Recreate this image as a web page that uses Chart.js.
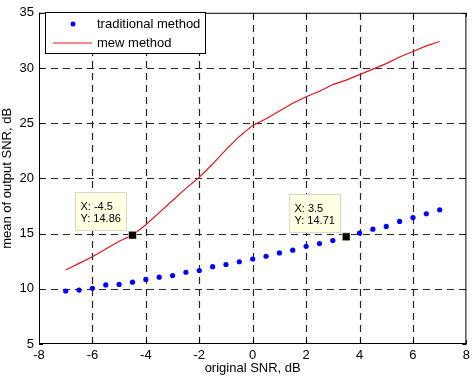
<!DOCTYPE html>
<html>
<head>
<meta charset="utf-8">
<script src="https://cdn.jsdelivr.net/npm/chart.js@4.4.0/dist/chart.umd.min.js"></script>
<style>
  html, body { margin: 0; padding: 0; background: #fff; }
  #wrap { width: 474px; height: 379px; position: relative; }
</style>
</head>
<body>
<div id="wrap"><canvas id="snrChart"></canvas></div>
<script>
// Input SNR values (dB)
const snrIn = [-7, -6.5, -6, -5.5, -5, -4.5, -4, -3.5, -3, -2.5, -2, -1.5, -1, -0.5, 0,
               0.5, 1, 1.5, 2, 2.5, 3, 3.5, 4, 4.5, 5, 5.5, 6, 6.5, 7];

// Mean output SNR, traditional method (dots)
const traditional = [9.8, 9.88, 10.05, 10.35, 10.4, 10.6, 10.85, 11.05, 11.2, 11.5, 11.65, 12.0, 12.2, 12.45, 12.7,
                     12.95, 13.25, 13.5, 13.85, 14.1, 14.37, 14.71, 15.05, 15.4, 15.65, 16.1, 16.45, 16.8, 17.15];

// Mean output SNR, new method (line)
const newMethod = [11.7, 12.3, 12.9, 13.6, 14.3, 14.86, 15.8, 16.9, 18.0, 19.1, 20.1, 21.3, 22.6, 23.8, 24.8,
                   25.4, 26.1, 26.8, 27.4, 27.9, 28.5, 28.9, 29.4, 29.9, 30.4, 31.0, 31.5, 32.0, 32.4];

// Data tips shown on the plot
const tipX = [-4.5, 3.5];
const tipY = [14.86, 14.71];

const xTicks = [-8, -6, -4, -2, 0, 2, 4, 6, 8];
const yTicks = [5, 10, 15, 20, 25, 30, 35];

const FONT = 'Liberation Sans, Arial, Helvetica, sans-serif';

const toPts = (xs, ys) => xs.map((x, i) => ({ x, y: ys[i] }));

// dashed grid, frame, inner ticks, legend and data tips (MATLAB look)
const matlabPlugin = {
    id: 'matlab',
    beforeDatasetsDraw(chart) {
        const ctx = chart.ctx;
        const a = chart.chartArea;
        const xs = chart.scales.x, ys = chart.scales.y;
        ctx.save();
        ctx.strokeStyle = '#262626';
        ctx.lineWidth = 1.2;
        ctx.setLineDash([7, 5]);
        xTicks.slice(1, -1).forEach(v => {
            const px = Math.round(xs.getPixelForValue(v)) + 0.5;
            ctx.beginPath();
            ctx.moveTo(px, a.bottom); ctx.lineTo(px, a.top);
            ctx.stroke();
        });
        yTicks.slice(1, -1).forEach(v => {
            const py = Math.round(ys.getPixelForValue(v)) + 0.5;
            ctx.beginPath();
            ctx.moveTo(a.left, py); ctx.lineTo(a.right, py);
            ctx.stroke();
        });
        ctx.restore();
    },
    afterDraw(chart) {
        const ctx = chart.ctx;
        const a = chart.chartArea;
        const xs = chart.scales.x, ys = chart.scales.y;
        ctx.save();

        // box
        ctx.strokeStyle = '#000';
        ctx.lineWidth = 1;
        ctx.setLineDash([]);
        ctx.strokeRect(a.left + 0.5, a.top + 0.5, a.right - a.left - 1, a.bottom - a.top - 1);

        // inner ticks
        ctx.beginPath();
        xTicks.forEach(v => {
            const px = Math.round(xs.getPixelForValue(v)) + 0.5;
            ctx.moveTo(px, a.bottom); ctx.lineTo(px, a.bottom - 4);
            ctx.moveTo(px, a.top); ctx.lineTo(px, a.top + 4);
        });
        yTicks.forEach(v => {
            const py = Math.round(ys.getPixelForValue(v)) + 0.5;
            ctx.moveTo(a.left, py); ctx.lineTo(a.left + 4, py);
            ctx.moveTo(a.right, py); ctx.lineTo(a.right - 4, py);
        });
        ctx.stroke();

        // data tips
        ctx.font = '11px ' + FONT;
        ctx.textBaseline = 'alphabetic';
        tipX.forEach((x, i) => {
            const px = xs.getPixelForValue(x);
            const py = ys.getPixelForValue(tipY[i]);
            const w = 51, h = 38;
            const bx = Math.round(px - 6 - w) + 0.5;
            const by = Math.round(py - 5 - h) + 0.5;
            ctx.fillStyle = '#ffffe3';
            ctx.fillRect(bx, by, w, h);
            ctx.strokeStyle = '#d8d8c8';
            ctx.strokeRect(bx, by, w, h);
            ctx.fillStyle = '#000';
            ctx.textAlign = 'left';
            ctx.fillText('X: ' + x, bx + 5, by + 17);
            ctx.fillText('Y: ' + tipY[i].toFixed(2), bx + 5, by + 29);
        });

        // legend box
        const lx = 45.5, ly = 12.5, lw = 160, lh = 41;
        ctx.fillStyle = '#fff';
        ctx.fillRect(lx, ly, lw, lh);
        ctx.strokeStyle = '#000';
        ctx.strokeRect(lx, ly, lw, lh);
        ctx.font = '13px ' + FONT;
        ctx.textBaseline = 'middle';
        ctx.textAlign = 'left';
        const ds = chart.data.datasets;
        // row 1: dots
        ctx.fillStyle = '#0000ff';
        ctx.beginPath();
        ctx.arc(73, 24, 2.5, 0, Math.PI * 2);
        ctx.fill();
        ctx.fillStyle = '#000';
        ctx.fillText(ds[0].label, 97, 24);
        // row 2: line
        ctx.strokeStyle = ds[1].borderColor;
        ctx.lineWidth = 1.2;
        ctx.beginPath();
        ctx.moveTo(53, 43); ctx.lineTo(92, 43);
        ctx.stroke();
        ctx.fillStyle = '#000';
        ctx.fillText(ds[1].label, 97, 43);

        ctx.restore();
    }
};

new Chart(document.getElementById('snrChart'), {
    type: 'scatter',
    data: {
        datasets: [
            {
                label: 'traditional method',
                data: toPts(snrIn, traditional),
                showLine: false,
                pointRadius: 2.6,
                pointBackgroundColor: '#0000ff',
                pointBorderWidth: 0,
                order: 2
            },
            {
                label: 'mew method',
                data: toPts(snrIn, newMethod),
                showLine: true,
                borderColor: '#e3141c',
                borderWidth: 1.2,
                pointRadius: 0,
                tension: 0,
                order: 1
            },
            {
                label: 'tips',
                data: toPts(tipX, tipY),
                showLine: false,
                pointStyle: 'rect',
                pointRadius: 5.6,
                pointBackgroundColor: '#000',
                pointBorderColor: '#ffffcc',
                pointBorderWidth: 0.6,
                order: 0
            }
        ]
    },
    options: {
        responsive: true,
        maintainAspectRatio: false,
        animation: false,
        layout: { padding: { top: 5, right: 2, left: 0, bottom: 0 } },
        plugins: {
            legend: { display: false },
            tooltip: { enabled: false }
        },
        scales: {
            x: {
                type: 'linear',
                min: -8,
                max: 8,
                afterBuildTicks: s => { s.ticks = xTicks.map(v => ({ value: v })); },
                afterFit: s => { s.height = 35; },
                grid: { display: false, drawTicks: false, tickLength: 0 },
                border: { display: false },
                ticks: { color: '#000', font: { family: FONT, size: 13 }, padding: 4, maxRotation: 0 },
                title: {
                    display: true,
                    text: 'original SNR, dB',
                    color: '#000',
                    font: { family: FONT, size: 13 },
                    padding: { top: 0, bottom: 3 }
                }
            },
            y: {
                min: 5,
                max: 35,
                afterBuildTicks: s => { s.ticks = yTicks.map(v => ({ value: v })); },
                afterFit: s => { s.width = 39; },
                grid: { display: false, drawTicks: false, tickLength: 0 },
                border: { display: false },
                ticks: { color: '#000', font: { family: FONT, size: 13 }, padding: 5 },
                title: {
                    display: true,
                    text: 'mean of output SNR, dB',
                    color: '#000',
                    font: { family: FONT, size: 13 },
                    padding: { top: 0, bottom: 0 }
                }
            }
        }
    },
    plugins: [matlabPlugin]
});
</script>
</body>
</html>
